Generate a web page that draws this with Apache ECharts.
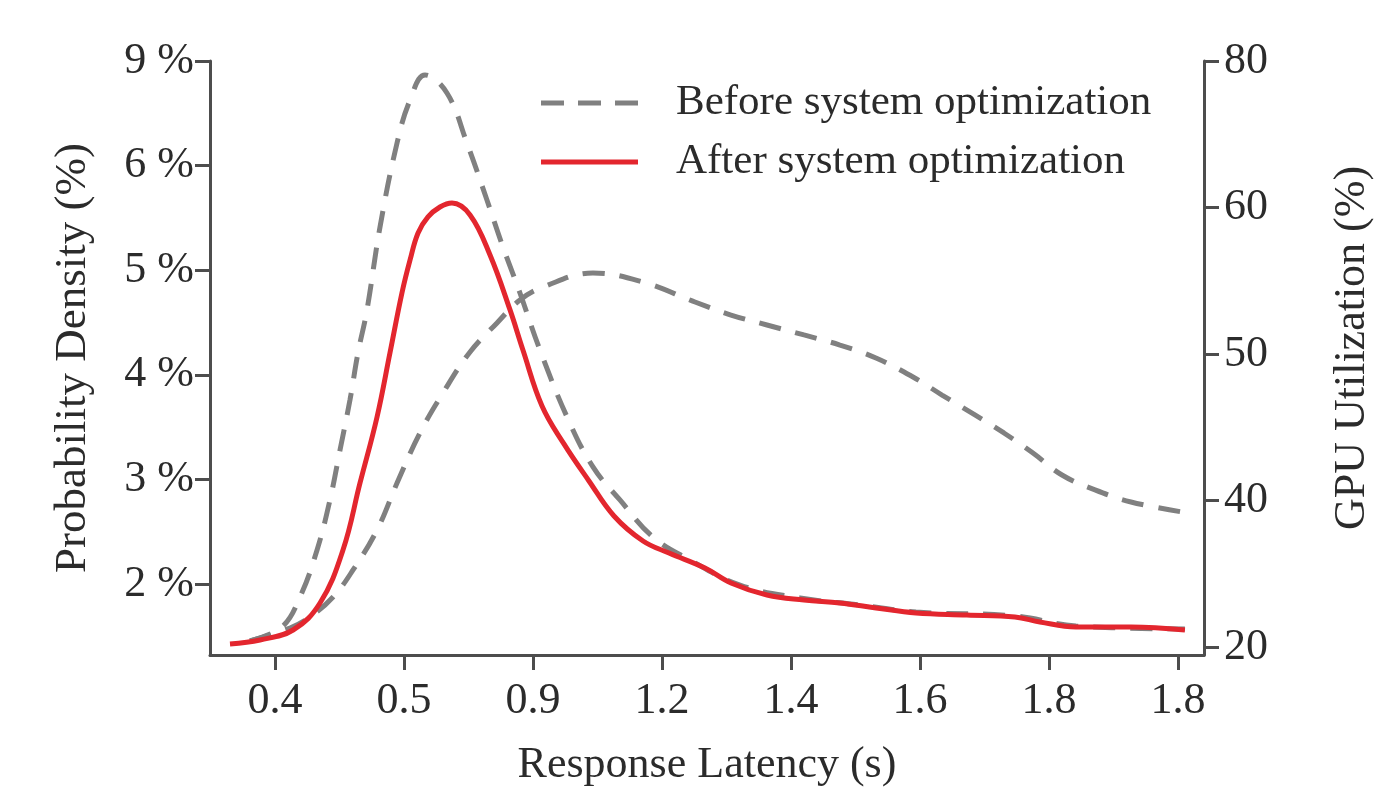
<!DOCTYPE html>
<html>
<head>
<meta charset="utf-8">
<script src="https://cdn.jsdelivr.net/npm/echarts@6/dist/echarts.min.js"></script>
<style>
html,body{margin:0;padding:0;background:#fff;}
#c{width:1399px;height:805px;}
</style>
</head>
<body>
<div id="c"></div>
<script>
// Tick labels (axes are evenly spaced in tick units; labels as printed)
var xTickLabels = ['0.4','0.5','0.9','1.2','1.4','1.6','1.8','1.8'];
var leftTickLabels = ['2 %','3 %','4 %','5 %','6 %','9 %'];
var rightTickLabels = ['20','40','50','60','80'];

// After system optimization (x in x-tick units, y in left-axis tick units)
var afterX = [-0.349,-0.116,0.140,0.349,0.527,0.659,0.791,0.891,0.984,1.047,1.109,1.186,1.279,1.372,1.512,1.667,1.822,1.922,2.070,2.240,2.434,2.628,2.853,3.054,3.333,3.535,3.814,4.101,4.380,4.659,4.969,5.364,5.736,5.930,6.209,6.636,7.054];
var afterY = [-0.574,-0.535,-0.440,-0.182,0.325,0.966,1.597,2.208,2.782,3.098,3.356,3.509,3.604,3.642,3.528,3.145,2.620,2.237,1.702,1.339,0.985,0.650,0.411,0.296,0.153,0.010,-0.105,-0.153,-0.182,-0.229,-0.277,-0.296,-0.315,-0.363,-0.411,-0.411,-0.440];

// Before system optimization, probability density (left axis tick units)
var beforeDensX = [-0.194,0.054,0.194,0.326,0.426,0.504,0.581,0.643,0.713,0.814,0.946,1.047,1.163,1.333,1.488,1.643,1.767,1.899,2.054,2.264,2.465,2.674,2.930,3.217,3.605,4.070,4.535,4.969,5.736,6.209,7.054];
var beforeDensY = [-0.545,-0.411,-0.124,0.325,0.803,1.281,1.759,2.208,2.620,3.413,4.216,4.627,4.866,4.694,4.216,3.671,3.222,2.782,2.237,1.597,1.119,0.803,0.449,0.229,-0.010,-0.134,-0.201,-0.268,-0.306,-0.402,-0.430];

// Before system optimization, GPU utilization (right axis tick units)
var beforeGpuX = [-0.194,0.116,0.271,0.450,0.605,0.791,0.946,1.124,1.302,1.512,1.721,1.899,2.078,2.465,2.853,3.256,3.535,3.814,4.101,4.380,4.659,4.946,5.171,5.426,5.651,5.876,6.101,6.357,6.636,7.031];
var beforeGpuY = [0.041,0.130,0.205,0.341,0.526,0.799,1.119,1.461,1.734,2.014,2.212,2.369,2.457,2.553,2.491,2.355,2.266,2.198,2.130,2.061,1.973,1.843,1.720,1.584,1.461,1.324,1.174,1.072,0.990,0.922];

function pairs(xs, ys){ return xs.map(function(x,i){ return [x, ys[i]]; }); }
function idxList(arr){ return arr.map(function(_,i){ return i; }); }

var FONT = '"Liberation Serif", "DejaVu Serif", serif';
var TXT = '#2b2b2b';
var AX = '#4d4d4d';
var GREY = '#808080';
var RED = '#e3262e';

var chart = echarts.init(document.getElementById('c'));
chart.setOption({
  animation: false,
  backgroundColor: '#fff',
  grid: { left: 210, right: 195, top: 61, bottom: 150, containLabel: false },
  legend: {
    orient: 'vertical',
    left: 541, top: 80,
    itemWidth: 97, itemHeight: 5,
    itemGap: 13,
    padding: 0,
    data: [
      { name: 'Before system optimization', icon: 'path://M0,0L23,0L23,5L0,5Z M37,0L60,0L60,5L37,5Z M74,0L97,0L97,5L74,5Z', itemStyle: { color: GREY } },
      { name: 'After system optimization', icon: 'rect', itemStyle: { color: RED } }
    ],
    textStyle: { fontFamily: FONT, fontSize: 43, color: TXT, lineHeight: 46, padding: [0,0,0,33] }
  },
  xAxis: {
    type: 'value', min: -0.504, max: 7.202,
    name: 'Response Latency (s)', nameLocation: 'middle', nameGap: 88,
    nameTextStyle: { fontFamily: FONT, fontSize: 44, color: TXT },
    axisLine: { show: true, onZero: false, lineStyle: { color: AX, width: 3 } },
    axisTick: { show: true, inside: false, length: 15, lineStyle: { color: AX, width: 3 }, customValues: idxList(xTickLabels) },
    axisLabel: { margin: 24, fontFamily: FONT, fontSize: 44, color: TXT, customValues: idxList(xTickLabels),
      formatter: function(v){ return xTickLabels[Math.round(v)]; } },
    splitLine: { show: false }
  },
  yAxis: [{
    type: 'value', position: 'left', min: -0.679, max: 5,
    name: 'Probability Density (%)', nameLocation: 'middle', nameGap: 114,
    nameTextStyle: { fontFamily: FONT, fontSize: 45, color: TXT },
    axisLine: { show: true, onZero: false, lineStyle: { color: AX, width: 3 } },
    axisTick: { show: true, length: 15, lineStyle: { color: AX, width: 3 }, customValues: idxList(leftTickLabels) },
    axisLabel: { margin: 16, fontFamily: FONT, fontSize: 44, color: TXT, customValues: idxList(leftTickLabels),
      formatter: function(v){ return leftTickLabels[Math.round(v)]; } },
    splitLine: { show: false }
  }, {
    type: 'value', position: 'right', min: -0.0546, max: 4,
    name: 'GPU Utilization (%)', nameLocation: 'middle', nameGap: 126,
    nameTextStyle: { fontFamily: FONT, fontSize: 44, color: TXT, padding: [0,0,0,20] },
    axisLine: { show: true, onZero: false, lineStyle: { color: AX, width: 3 } },
    axisTick: { show: true, length: 15, lineStyle: { color: AX, width: 3 }, customValues: idxList(rightTickLabels) },
    axisLabel: { margin: 20, fontFamily: FONT, fontSize: 44, color: TXT, customValues: idxList(rightTickLabels),
      formatter: function(v){ return rightTickLabels[Math.round(v)]; } },
    splitLine: { show: false }
  }],
  series: [{
    name: 'Before system optimization', type: 'line', yAxisIndex: 0,
    data: pairs(beforeDensX, beforeDensY), smooth: 0.4, symbol: 'none', showSymbol: false,
    lineStyle: { color: GREY, width: 5, type: [22, 15] }, itemStyle: { color: GREY }, z: 2
  }, {
    name: 'Before system optimization', type: 'line', yAxisIndex: 1,
    data: pairs(beforeGpuX, beforeGpuY), smooth: 0.4, symbol: 'none', showSymbol: false,
    lineStyle: { color: GREY, width: 5, type: [22, 15] }, itemStyle: { color: GREY }, z: 2
  }, {
    name: 'After system optimization', type: 'line', yAxisIndex: 0,
    data: pairs(afterX, afterY), smooth: 0.4, symbol: 'none', showSymbol: false,
    lineStyle: { color: RED, width: 5 }, itemStyle: { color: RED }, z: 3
  }]
});
</script>
</body>
</html>
